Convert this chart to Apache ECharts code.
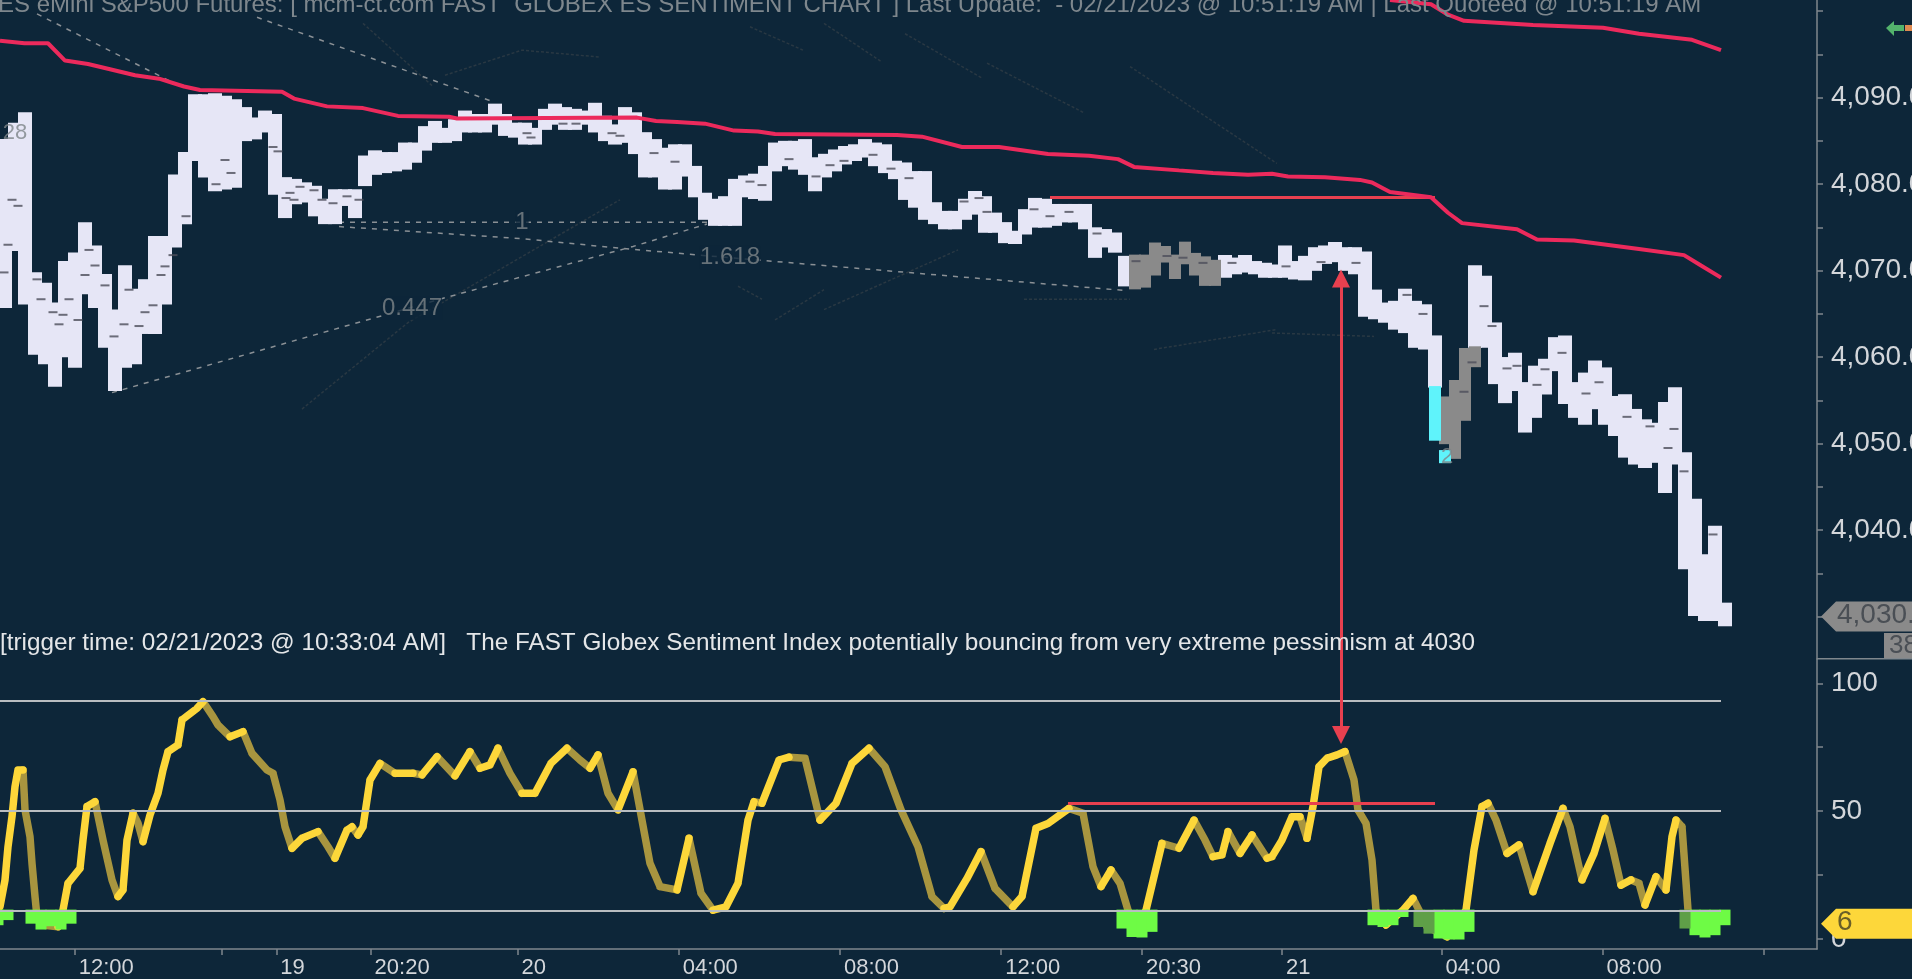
<!DOCTYPE html>
<html>
<head>
<meta charset="utf-8">
<title>ES sentiment chart</title>
<style>
html, body { margin: 0; padding: 0; background: #0d2639; overflow: hidden; }
#chart { width: 1912px; height: 979px; }
</style>
<script src="https://cdn.jsdelivr.net/npm/echarts@6/dist/echarts.min.js"></script>
</head>
<body>
<div id="chart"></div>
<script>
var FONT = '"Liberation Sans", Arial, sans-serif';
var headerText = 'ES eMini S&P500 Futures: [ mcm-ct.com FAST  GLOBEX ES SENTIMENT CHART ] Last Update:  - 02/21/2023 @ 10:51:19 AM | Last Quoteed @ 10:51:19 AM';
var triggerText = '[trigger time: 02/21/2023 @ 10:33:04 AM]   The FAST Globex Sentiment Index potentially bouncing from very extreme pessimism at 4030';

var whiteHi = [
  4085.1,4087,4088.2,4069.7,4068.5,4066.2,4071,4072,4075.5,4072.8,
  4069.5,4065.4,4070.5,4067.8,4068.9,4073.9,4073.9,4081,4083.6,4090.3,
  4090.3,4090.4,4090.1,4089.7,4088.8,4087.6,4088.4,4088,4080.7,
  4080.5,4080.1,4079.7,4078.2,4079.3,4079.3,4079.3,4083.2,4083.8,4083.6,
  4083.6,4084.7,4084.7,4086.6,4087.2,4086.4,4087.4,4088.4,4088,4088,
  4089.2,4088,4087,4087,4086.4,4088.6,4089.2,4088.8,4088.6,4088.4,
  4089.3,4087.8,4086.8,4088.8,4088.2,4085.9,4085.1,4084.1,4084.5,4084.5,
  4082,4078.9,4078.2,4078.5,4080.5,4080.9,4081.1,4082,4084.7,4084.9,
  4084.9,4085.1,4083,4083.4,4083.9,4084.3,4084.5,4085.1,4084.7,4084.5,
  4082.6,4082.4,4081.4,4081.4,4077.8,4076.8,4076.8,4078.2,4079.1,4078.5,
  4076.6,4075.5,4074.5,4077,4078.3,4078.2,4077.6,4077.6,4077.6,4077.6,
  4074.9,4074.7,4074.3,4071.6,
  null,null,null,null,null,null,null,null,null,
  4071.7,4071.4,4071.7,4071,4070.8,4070.6,4072.8,4071,4071.6,
  4072.6,4072.8,4073.2,4072.6,4072.6,4072.1,4067.7,
  4066.2,4066.4,4067.8,4066.4,4066,4062.4,
  null,null,null,
  4070.5,4069.3,4063.9,4059.9,4060.4,4057,4058.9,4059.7,4062.2,4062.4,
  4057,4058.1,4059.5,4058.7,4055.4,4055.6,4053.9,4052.7,4052.3,4054.7,
  4056.4,4048.9,4043.5,4037.1,4040.4,4031.5
];
var whiteLo = [
  4065.8,4072.4,4066.2,4060.4,4059.3,4056.7,4060.1,4058.9,4067.4,4065.8,
  4061.2,4056.2,4058.9,4059.3,4062.8,4062.8,4066.2,4072.8,4075.5,4082.8,
  4080.9,4079.3,4079.5,4079.7,4085.1,4085.3,4086.1,4078.9,4076.2,
  4077.8,4078,4076.4,4075.5,4075.5,4077.6,4076.2,4079.9,4081.2,4081.4,
  4081.6,4081.8,4082.6,4084,4084.9,4084.9,4085.1,4086.1,4086.1,4086.1,
  4087,4085.7,4085.5,4084.7,4084.7,4086.4,4087,4086.4,4086.4,4087,
  4086.1,4085.1,4084.7,4084.9,4083.6,4080.9,4080.9,4079.5,4079.5,4081,
  4078.6,4076,4075.3,4075.3,4075.3,4078.6,4078.4,4078.2,4081.6,4082.2,
  4081.8,4081.2,4079.3,4080.9,4081.6,4082.4,4082.8,4083.2,4082.2,4081.4,
  4080.7,4078.3,4077.4,4076,4075.5,4074.9,4074.9,4076,4076.6,4074.5,
  4074.5,4073.3,4073.2,4074.3,4075.1,4075.1,4075.3,4075.7,4075.7,4074.9,
  4071.6,4072.8,4072.2,4068.3,
  null,null,null,null,null,null,null,null,null,
  4069.3,4069.7,4069.9,4069.7,4069.3,4069.3,4069.3,4069.1,4069,
  4070.1,4070.9,4071.1,4070.1,4069.7,4064.8,4064.5,
  4064.1,4063.3,4062.9,4061.2,4061,4056.6,
  null,null,null,
  4061.2,4061.2,4057,4054.8,4056.2,4051.4,4053.1,4055.8,4058.5,4054.7,
  4053.1,4052.3,4054.1,4052.3,4051,4048.5,4047.7,4047.3,4047.9,4044.4,
  4047.7,4035.6,4030.2,4029.6,4029.6,4029
];

var greyCol = [113,114,115,116,117,118,119,120,121,144,145,146,147];
var greyHi = [4071.8,4071.8,4073.2,4072.8,4071.8,4073.3,4072,4071.6,4071.2,4055.4,4057.3,4061,4061.2];
var greyLo = [4067.9,4068.1,4069.5,4071,4069.1,4070.8,4069.5,4068.3,4068.3,4050,4048.3,4052.7,4058.9];

var cyanCol = [143,144];
var cyanHi = [4056.6,4049.2];
var cyanLo = [4050.4,4047.8];

var closeX = [1.2,1.8,.8,.4,3.7,4.1,5.3,6.3,5.9,6.9,7.8,8.9,9.5,8.5,10.5,11.4,12.4,13.9,12.9,14.5,15.3,16.5,16.1,17.3,18.6,22.5,21.6,23.1,27.3,27.8,29,28.6,30,31.4,29.4,32.2,33.3,34.7,35.9,52.7,53.1,56.3,57.6,61.2,62,65.4,67.5,75,76.2,78.9,81.6,83,84.4,87.3,89.1,90.9,96.4,97.9,98.7,103.4,105,106.9,109.7,113.6,116.7,118.3,120.3,123.2,128.6,132.1,135.6,140.7,142.3,148.4,149.2,150.7,151.7,153.7,154.5,156.2,158.6,159.9,162.7,165,167.4,166.8,168.4,171.3,146.4,147.2];
var closeY = [4078.2,4077.5,4073,4069.8,4069,4066.7,4065.2,4064.9,4063.8,4066.7,4064.3,4072.4,4070.6,4069.5,4068.3,4062.4,4063.8,4063.6,4067.8,4065.2,4066,4070.5,4069.5,4071.8,4076.3,4082.8,4080,4081.3,4084.3,4083.8,4079,4078.4,4079.7,4079.3,4078.2,4078.2,4077.8,4078.6,4078.2,4085.9,4085.4,4087,4087,4085.9,4085.6,4083.6,4082.6,4080.3,4079.9,4082.9,4080.9,4082.2,4082.7,4083.4,4081.8,4080.7,4078,4078.4,4076.8,4077.1,4076.3,4076.8,4074.3,4071.1,4071.7,4071.5,4070.9,4070.9,4070.5,4071,4070.9,4067.2,4065,4065.9,4063.6,4058.7,4059,4056.8,4058.6,4060.5,4055.8,4057.1,4053.1,4052,4051.7,4049.5,4046.8,4039.5,4056,4059.4];

var maLowX = [0,2.45,4.8,6.5,8.8,11,13.5,15.9,18.4,20,28.2,29.4,32.7,36.3,39.8,44.9,45.7,63.7,65.6,67.7,70.5,73.4,75.8,77.5,89.7,92.2,96.2,99.9,104.8,108.9,111.8,113.4,117.9,121.3,124.8,127.2,128.8,132.5,136,137.2,139,143.1,144.8,146.2,151.7,153.7,157.4,163.9,168.4,170.1,172.1];
var maLowY = [4096.6,4096.3,4096.3,4094.3,4093.9,4093.3,4092.6,4092.2,4091.3,4090.9,4090.7,4089.9,4089,4088.8,4087.9,4087.8,4087.6,4087.7,4087.3,4087.2,4087,4086.2,4086.1,4085.8,4085.7,4085.5,4084.3,4084.3,4083.5,4083.3,4082.9,4082,4081.6,4081.3,4081.1,4081.2,4080.9,4080.8,4080.5,4080.2,4079.1,4078.5,4076.7,4075.5,4074.8,4073.6,4073.5,4072.5,4071.8,4070.6,4069.2];
var maHighX = [139,143.1,144.8,146.4,153.3,160.3,163.9,169.2,172.1];
var maHighY = [4101.3,4100.8,4099.6,4098.9,4098.4,4098.1,4097.4,4096.7,4095.5];

var fibLines = [
  [[33.9,4075.6],[70.7,4075.6]],
  [[33.9,4075.1],[52.2,4073.7],[62,4072.6],[73,4071.5],[112.6,4067.7]],
  [[11.2,4055.9],[44.9,4067],[63.3,4072.8],[70.7,4075.4]],
  [[25.7,4099.3],[49.4,4089.5]],
  [[3.7,4099.7],[18.4,4091.1]]
];
var fibLabels = ['1','1.618','0.447'];
var fibLabelX = [52.2,73,41.2];
var fibLabelY = [4075.6,4071.5,4065.7];
var stampLabels = ['28','2'];
var stampX = [1.5,144.7];
var stampY = [4085.9,4048.5];

var ghostLines = [
  [[75,4098.2],[80.3,4095.5]],
  [[82.4,4098.6],[88.1,4094.2]],
  [[90.5,4097.4],[98.3,4092.2]],
  [[98.7,4094],[108.5,4088.2]],
  [[113,4093.6],[127.7,4082.4]],
  [[73.8,4068.2],[76.2,4066.7]],
  [[77.5,4064.3],[82.4,4067.8]],
  [[82.4,4065.5],[95.8,4072.4]],
  [[102.4,4066.7],[113,4066.7]],
  [[115.4,4060.9],[127.7,4063.2]],
  [[36.3,4098.6],[43.3,4091.3]],
  [[44.5,4092.6],[52.2,4095.5],[60,4094.7]],
  [[30.2,4054],[40.8,4064],[62,4078.2]],
  [[127.2,4062.8],[137.4,4062.4]]
];

var sentX = [0,.5,.8,1.2,1.5,1.8,2.3,2.5,3,3.2,3.5,3.7,4.2,5.8,6.3,6.8,8,8.3,8.7,9.5,10.3,11.2,11.8,12.3,12.7,13.3,13.8,14.3,15,15.8,16.3,16.8,17.8,18.2,19.7,20.3,21.3,21.8,23,24.3,25.2,26.7,27.3,28,28.5,29.2,30.2,31.8,32.8,33.5,34.7,35.2,35.8,36.3,37,38,39.5,41.3,42.2,43.7,45.5,47,48,49,49.8,51,52.2,53.5,55.1,56.7,58,59,59.8,60.8,61.8,63.3,
  65,66,67.7,68.9,70.1,71.3,72.6,73.8,74.8,75.4,76.2,77.9,78.9,80.5,82,83.6,85.2,86.9,88.5,90.1,91.8,93.2,94.4,95,96.7,98.1,99.5,101.3,102.2,103.6,104.8,106.9,108.3,109.3,110.1,111.1,112,112.8,113.6,114.6,116.2,117.9,119.4,120.5,121.3,122.2,122.8,124,125.2,126.7,
  127.2,128.2,129.2,130,130.7,131.3,131.9,132.7,133.7,134.5,135.4,135.8,136.6,137.2,137.6,138.6,140.3,141.3,141.9,142.7,144.7,146.6,147.4,148.2,148.8,149.6,150.7,151.9,153.3,155,156.3,157,158.2,159.4,160.5,161.3,162.1,163.1,163.9,164.5,165.6,166.6,167.2,167.6,168.2,168.8];
var sentY = [12.7,23.1,36.1,47.9,59.6,66.1,66.1,50.5,40,29.6,16.6,8.7,5.5,4.8,11.4,21.8,27.6,38.7,51.8,53.7,38.7,23.1,16.6,19.2,38.7,49.2,45.3,38.1,48.5,57,66.1,73.3,75.9,85.7,90.2,92.8,87,83.7,79.1,81.1,72.6,66.1,64.8,54.4,43.9,35.5,39.4,42,36.1,31.6,42.6,43.9,40.7,43.9,62.2,68.7,64.8,64.8,64.2,71.3,63.8,73.3,66.8,68.1,74.6,64.8,57,57,68.7,74.6,70,66.8,72,57,50.5,65.4,
  29.6,20.5,19.2,39.4,17.9,11.3,12.6,21.8,46.5,53.7,53.1,70,71.1,70.7,46.5,53.1,68.7,74.6,67.4,50.5,36.1,16.6,12,12.6,23.7,34.2,19.8,12.6,16.6,43.3,45.2,51.1,49.2,28.3,20.5,27,21.8,11.3,4.8,11.3,37.4,35.5,46.5,38.7,32.2,32.9,42,33.5,40.7,31.6,
  32.2,38.7,47.8,47.8,39.4,51.8,67.4,70.7,72,73.3,62.2,50.5,45.2,30.9,11.3,5.5,11.3,15.9,11.3,4.8,.9,11.3,34.8,51.8,53.1,46.5,33.5,36.8,18.5,37.4,51.1,43.9,23.1,33.5,47.2,34.8,21.1,23.1,21.8,13.3,24.4,19.2,40,46.5,43.9,11.3];

var greenCol = [-.7,.3,2.6,3.6,4.6,5.6,6.6,111.7,112.7,113.7,114.7,136.8,137.8,138.8,139.8,143.4,144.4,145.4,146.4,169,170,171,172];
var greenLow = [5.5,7.5,6.1,3.8,5.1,3.8,6.1,4.2,.9,.7,2.9,5.5,4.8,5.5,8.7,.3,-.1,-.1,2.9,1.6,.7,1.6,5.5];
var darkGreenCol = [141.4,142.4,168];
var darkGreenLow = [4.8,2.2,4.2];
var greenTop = 11.4;

var priceTicks = [4030,4035,4040,4045,4050,4055,4060,4065,4070,4075,4080,4085,4090,4095,4100];
var priceLabels = [4030,4040,4050,4060,4070,4080,4090];
var sentTicks = [0,25,50,75,100];
var sentLabels = [0,50,100];
var sentLevels = [93,50,11];
var sentLevelEnd = 172.1;

var timeTicks = [7.47,22.16,27.63,37.06,51.76,67.88,84,100.12,114.2,128.2,144.14,160.26,176.38];
var timeLabels = ['12:00','','19','20:20','20','04:00','08:00','12:00','20:30','21','04:00','08:00',''];

var priceBottom = 4025.1;
var sentTop = 109.5;
var resistPrice = [105,143.5,4078.5];
var resistSent = [106.8,143.5,52.9];
var arrowCol = 134.1;
var arrowPrice = 4069.1;
var arrowSent = 79.8;
var lastPrice = 4030;
var lastSent = 6;

var BG = '#0d2639';
var AXIS = '#7f878d';
var LABEL = '#d3d6da';
var RED = '#e8404f';

function pairs(xs, ys) {
  var out = [];
  for (var i = 0; i < xs.length; i++) out.push([xs[i], ys[i]]);
  return out;
}

function rangeSeries(name, xs, hi, lo, color, axisIndex, z, pad) {
  var rows = [];
  for (var i = 0; i < xs.length; i++) {
    if (hi[i] !== null) rows.push([xs[i], hi[i], lo[i]]);
  }
  return {
    name: name,
    type: 'custom',
    xAxisIndex: axisIndex,
    yAxisIndex: axisIndex,
    z: z,
    silent: true,
    encode: { x: 0, y: [1, 2] },
    data: rows,
    renderItem: function (params, api) {
      var a = api.coord([api.value(0), api.value(1)]);
      var b = api.coord([api.value(0) + 1, api.value(2)]);
      return {
        type: 'rect',
        shape: { x: a[0] - pad, y: a[1] - pad / 2, width: b[0] - a[0] + 2 * pad, height: b[1] - a[1] + pad },
        style: { fill: color }
      };
    }
  };
}

function gappedLines(list) {
  var out = [];
  for (var i = 0; i < list.length; i++) {
    for (var j = 0; j < list[i].length; j++) out.push(list[i][j]);
    out.push([list[i][list[i].length - 1][0], null]);
  }
  return out;
}

var colIndex = [];
for (var c = 0; c < whiteHi.length; c++) colIndex.push(c);

var rising = [];
var falling = [];
for (var s = 0; s < sentX.length - 1; s++) {
  var target = sentY[s + 1] >= sentY[s] ? rising : falling;
  target.push([sentX[s], sentY[s]], [sentX[s + 1], sentY[s + 1]], [sentX[s + 1], null]);
}

var levelLines = [];
for (var k = 0; k < sentLevels.length; k++) {
  levelLines.push([{ coord: [0, sentLevels[k]] }, { coord: [sentLevelEnd, sentLevels[k]] }]);
}

var myChart = echarts.init(document.getElementById('chart'));

var option = {
  animation: false,
  backgroundColor: BG,
  textStyle: { fontFamily: FONT },
  grid: [
    { left: 0, top: 0, width: 1817, height: 659, outerBoundsMode: 'none' },
    { left: 0, top: 659, width: 1817, height: 290, outerBoundsMode: 'none' }
  ],
  xAxis: [
    { type: 'value', gridIndex: 0, min: 0, max: 181.7, show: false, splitLine: { show: false } },
    {
      type: 'value', gridIndex: 1, min: 0, max: 181.7,
      splitLine: { show: false },
      axisLine: { onZero: false, lineStyle: { color: AXIS, width: 1.5 } },
      axisTick: { show: true, customValues: timeTicks, length: 6, lineStyle: { color: AXIS, width: 1.5 } },
      axisLabel: {
        customValues: timeTicks, color: LABEL, fontSize: 22, fontFamily: FONT, align: 'left', margin: 8, padding: [0, 0, 0, 4],
        showMinLabel: true, showMaxLabel: true, hideOverlap: false,
        formatter: function (v) { return timeLabels[timeTicks.indexOf(v)] || ''; }
      }
    }
  ],
  yAxis: [
    {
      type: 'value', gridIndex: 0, position: 'right', min: priceBottom, max: 4101.3,
      splitLine: { show: false },
      axisLine: { show: true, onZero: false, lineStyle: { color: AXIS, width: 1.5 } },
      axisTick: { show: true, customValues: priceTicks, length: 6, lineStyle: { color: AXIS, width: 1.5 } },
      axisLabel: {
        customValues: priceLabels, color: LABEL, fontSize: 28, fontFamily: FONT, margin: 14,
        formatter: function (v) { return String(v).charAt(0) + ',' + String(v).slice(1) + '.00'; }
      }
    },
    {
      type: 'value', gridIndex: 1, position: 'right', min: -3.9, max: sentTop,
      splitLine: { show: false },
      axisLine: { show: true, onZero: false, lineStyle: { color: AXIS, width: 1.5 } },
      axisTick: { show: true, customValues: sentTicks, length: 6, lineStyle: { color: AXIS, width: 1.5 } },
      axisLabel: { customValues: sentLabels, color: LABEL, fontSize: 28, fontFamily: FONT, margin: 14 }
    }
  ],
  series: [
    {
      name: 'ghost', type: 'line', xAxisIndex: 0, yAxisIndex: 0, z: 1, silent: true, symbol: 'none',
      lineStyle: { color: '#293843', width: 1.5, type: [3, 2] }, data: gappedLines(ghostLines)
    },
    {
      name: 'fib', type: 'line', xAxisIndex: 0, yAxisIndex: 0, z: 2, silent: true, symbol: 'none',
      lineStyle: { color: '#8a9095', width: 1.5, type: [5, 6] }, data: gappedLines(fibLines)
    },
    {
      name: 'fibLabels', type: 'scatter', xAxisIndex: 0, yAxisIndex: 0, z: 3, silent: true, symbolSize: 0,
      data: pairs(fibLabelX, fibLabelY),
      label: {
        show: true, position: 'inside', fontSize: 24, fontFamily: FONT, color: '#7d8488', backgroundColor: BG,
        formatter: function (p) { return fibLabels[p.dataIndex]; }
      }
    },
    rangeSeries('price', colIndex, whiteHi, whiteLo, '#e6e6f6', 0, 4, 2),
    rangeSeries('priceGrey', greyCol, greyHi, greyLo, '#8a8a8a', 0, 5, 1),
    rangeSeries('priceCyan', cyanCol, cyanHi, cyanLo, '#5ff3fb', 0, 6, 1),
    {
      name: 'close', type: 'scatter', xAxisIndex: 0, yAxisIndex: 0, z: 7, silent: true,
      symbol: 'rect', symbolSize: [9, 2], itemStyle: { color: '#4c4e5a' }, data: pairs(closeX, closeY)
    },
    {
      name: 'stamps', type: 'scatter', xAxisIndex: 0, yAxisIndex: 0, z: 7, silent: true, symbolSize: 0,
      data: pairs(stampX, stampY),
      label: {
        show: true, position: 'inside', fontFamily: FONT, color: '#7d8488', fontSize: 22,
        formatter: function (p) { return stampLabels[p.dataIndex]; }
      }
    },
    {
      name: 'avgLow', type: 'line', xAxisIndex: 0, yAxisIndex: 0, z: 8, silent: true, symbol: 'none',
      lineStyle: { color: '#ec2a5c', width: 4 }, data: pairs(maLowX, maLowY)
    },
    {
      name: 'avgHigh', type: 'line', xAxisIndex: 0, yAxisIndex: 0, z: 8, silent: true, symbol: 'none',
      lineStyle: { color: '#ec2a5c', width: 4 }, data: pairs(maHighX, maHighY)
    },
    {
      name: 'annotPrice', type: 'line', xAxisIndex: 0, yAxisIndex: 0, z: 9, silent: true, data: [],
      markLine: {
        silent: true, animation: false, label: { show: false },
        lineStyle: { color: RED, width: 3, type: 'solid' },
        data: [
          [{ coord: [resistPrice[0], resistPrice[2]], symbol: 'none' }, { coord: [resistPrice[1], resistPrice[2]], symbol: 'none' }],
          [{ coord: [arrowCol, arrowPrice], symbol: 'triangle', symbolSize: [18, 18], symbolRotate: 0 }, { coord: [arrowCol, priceBottom], symbol: 'none' }]
        ]
      }
    },
    rangeSeries('extreme', greenCol, greenCol.map(function () { return greenTop; }), greenLow, '#6efb45', 1, 3, 0.5),
    rangeSeries('extremeDark', darkGreenCol, darkGreenCol.map(function () { return greenTop; }), darkGreenLow, '#5f9f48', 1, 3, 0.5),
    {
      name: 'sentFall', type: 'line', xAxisIndex: 1, yAxisIndex: 1, z: 2, silent: true, symbol: 'none',
      lineStyle: { color: '#a8953f', width: 7.5, cap: 'round' }, data: falling
    },
    {
      name: 'sentRise', type: 'line', xAxisIndex: 1, yAxisIndex: 1, z: 2, silent: true, symbol: 'none',
      lineStyle: { color: '#fdd73a', width: 7.5, cap: 'round' }, data: rising
    },
    {
      name: 'levels', type: 'line', xAxisIndex: 1, yAxisIndex: 1, z: 4, silent: true, data: [],
      markLine: {
        silent: true, animation: false, symbol: 'none', label: { show: false },
        lineStyle: { color: '#b9bdc0', width: 2, type: 'solid' }, data: levelLines
      }
    },
    {
      name: 'annotSent', type: 'line', xAxisIndex: 1, yAxisIndex: 1, z: 5, silent: true, data: [],
      markLine: {
        silent: true, animation: false, label: { show: false },
        lineStyle: { color: RED, width: 3, type: 'solid' },
        data: [
          [{ coord: [resistSent[0], resistSent[2]], symbol: 'none' }, { coord: [resistSent[1], resistSent[2]], symbol: 'none' }],
          [{ coord: [arrowCol, sentTop], symbol: 'none' }, { coord: [arrowCol, arrowSent], symbol: 'triangle', symbolSize: [18, 18], symbolRotate: 180 }]
        ]
      }
    }
  ]
};

option && myChart.setOption(option);

var priceY = myChart.convertToPixel({ yAxisIndex: 0 }, lastPrice);
var sentPx = myChart.convertToPixel({ yAxisIndex: 1 }, lastSent);

myChart.setOption({
  graphic: [
    { type: 'text', x: -2, y: -7, z: 20, silent: true, style: { text: headerText, fill: '#7e878d', font: '24px ' + FONT } },
    { type: 'text', x: 0, y: 631, z: 20, silent: true, style: { text: triggerText, fill: '#e4e6e8', font: '24.3px ' + FONT } },
    { type: 'rect', z: 20, silent: true, shape: { x: 1817, y: 658, width: 95, height: 1.5 }, style: { fill: AXIS } },
    {
      type: 'polygon', z: 21, silent: true,
      shape: { points: [[1821, priceY], [1836, priceY - 15], [1912, priceY - 15], [1912, priceY + 15], [1836, priceY + 15]] },
      style: { fill: '#8a8a8a' }
    },
    { type: 'text', x: 1837, y: priceY - 15, z: 22, silent: true, style: { text: '4,030.00', fill: '#4a4f55', font: '28px ' + FONT } },
    { type: 'rect', z: 21, silent: true, shape: { x: 1884, y: 633, width: 28, height: 25 }, style: { fill: '#8a8a8a' } },
    { type: 'text', x: 1889, y: 633, z: 22, silent: true, style: { text: '38', fill: '#4a4f55', font: '26px ' + FONT } },
    {
      type: 'polygon', z: 21, silent: true,
      shape: { points: [[1821, sentPx], [1836, sentPx - 15], [1912, sentPx - 15], [1912, sentPx + 15], [1836, sentPx + 15]] },
      style: { fill: '#fdd73a' }
    },
    { type: 'text', x: 1837, y: sentPx - 15, z: 22, silent: true, style: { text: '6', fill: '#6a5f28', font: '28px ' + FONT } },
    {
      type: 'polygon', z: 21, silent: true,
      shape: { points: [[1886, 28], [1894, 21], [1894, 25], [1904, 25], [1904, 31], [1894, 31], [1894, 36]] },
      style: { fill: '#53b36c' }
    },
    { type: 'rect', z: 21, silent: true, shape: { x: 1905, y: 25, width: 7, height: 6 }, style: { fill: '#e08a50' } }
  ]
});
</script>
</body>
</html>
